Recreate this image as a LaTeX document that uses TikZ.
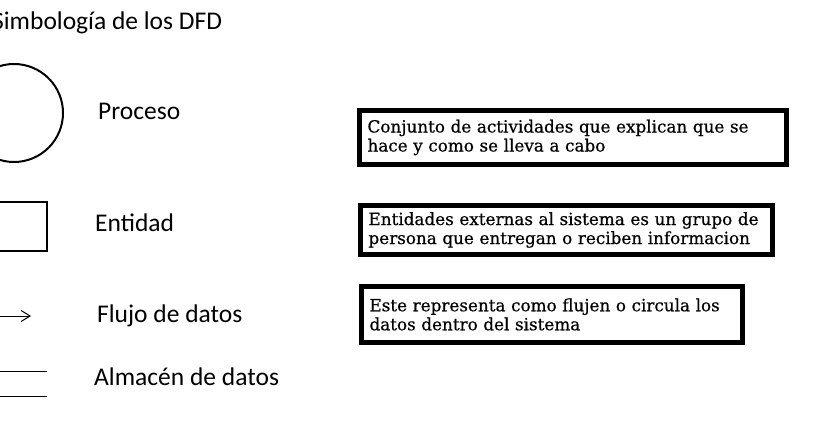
\documentclass[tikz,border=0pt]{standalone}
\usepackage{fontspec}
\usetikzlibrary{arrows.meta}
\setmainfont{Carlito}
\newfontfamily\cajafont[FakeBold=0.6]{DejaVu Serif}
\tikzset{
  etiqueta/.style={anchor=base west,inner sep=0pt,font=\fontsize{25.5}{30}\selectfont},
  caja/.style={draw,line width=5pt,inner xsep=8pt,align=left,
    font=\cajafont\fontsize{16.8}{19}\selectfont}
}
\begin{document}
\begin{tikzpicture}[x=1pt,y=-1pt]
\useasboundingbox (0,0) rectangle (829,435);
\node[etiqueta] (titulo) at (-8,30) {Simbología de los DFD};
\node[draw,circle,line width=2pt,minimum size=98pt,inner sep=0pt] (circulo) at (14,113) {};
\node[etiqueta] (proceso) at (98,120) {Proceso};
\draw[line width=2.5pt] (-5,202) rectangle (47,251);
\node[etiqueta] (entidad) at (95,232) {Entidad};
\coordinate (flujoA) at (0,316);
\coordinate (flujoB) at (31,316);
\draw[-{Straight Barb[length=9pt,width=11pt]},line width=1pt] (flujoA) -- (flujoB);
\node[etiqueta] (flujo) at (97,323) {Flujo de datos};
\draw[line width=1pt] (0,371) -- (47,371) (0,396) -- (47,396);
\node[etiqueta] (almacen) at (94,385) {Almacén de datos};
\node[caja,text width=411pt,minimum height=54pt] (cajaproceso) at (573,137.5)
  {Conjunto de actividades que explican que se\\hace y como se lleva a cabo};
\node[caja,text width=396pt,minimum height=49pt] (cajaentidad) at (566.5,230)
  {Entidades externas al sistema es un grupo de\\persona que entregan o reciben informacion};
\node[caja,text width=365pt,minimum height=56pt] (cajaflujo) at (552,314.5)
  {Este representa como flujen o circula los\\datos dentro del sistema};
\end{tikzpicture}
\end{document}
